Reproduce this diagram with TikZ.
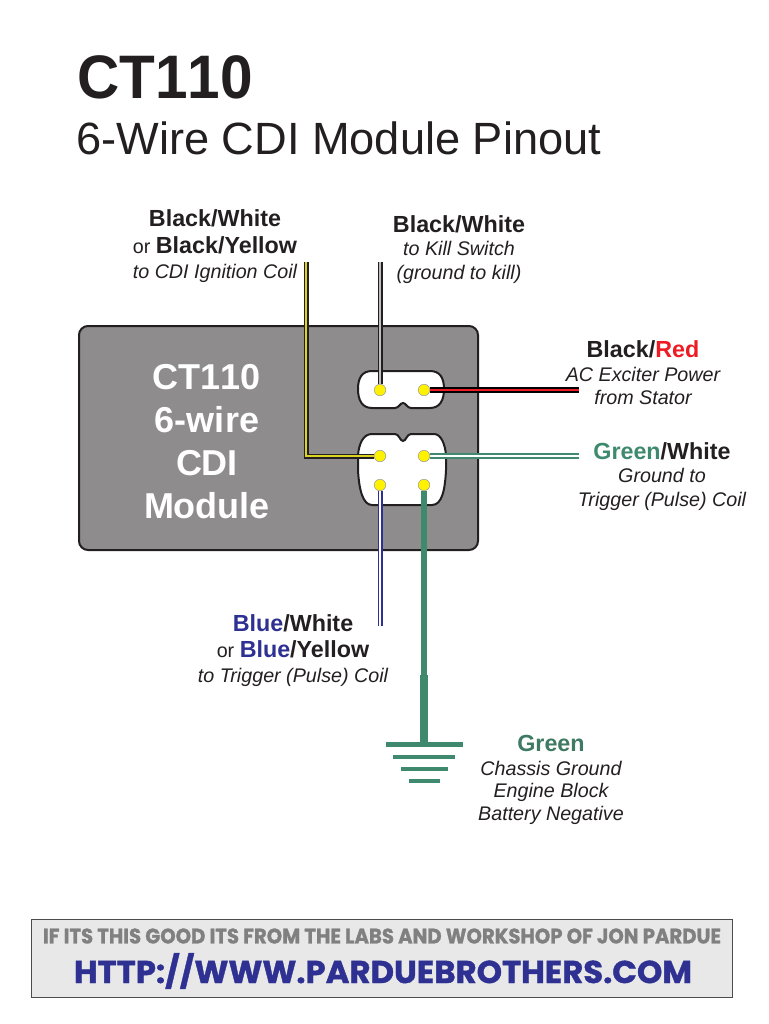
\documentclass[tikz,border=0pt]{standalone}
\usepackage{fontspec}
\setmainfont{Liberation Sans}
\newfontfamily\nokern{Liberation Sans}[Kerning=Off]
\newfontfamily\bannerfont{Poppins}[BoldFeatures={FakeBold=1.2}]
\definecolor{ink}{HTML}{231F20}
\definecolor{modgray}{HTML}{8E8C8D}
\definecolor{wiregreen}{HTML}{3F8A6E}
\definecolor{labelgreen}{HTML}{3F7A64}
\definecolor{wireblue}{HTML}{2E3192}
\definecolor{wirered}{HTML}{ED1C24}
\definecolor{bannerbg}{HTML}{E8E8E8}
\definecolor{bannertxt}{HTML}{808080}
\newcommand{\bw}[1]{{\fontsize{23.3}{27}\selectfont\upshape\bfseries #1}}
\newcommand{\orw}{{\fontsize{19.7}{24}\selectfont\upshape or }}
\tikzset{
  label/.style={align=center,text=ink,inner sep=0pt,font=\fontsize{19.7}{23.5}\selectfont\itshape},
  pin/.style={circle,fill=yellow,draw=black!40,line width=.5pt,minimum size=11.5pt,inner sep=0pt},
  socket/.style={fill=white,draw=ink,line width=2pt},
  wire/.style={line width=1.5pt,double distance=#1},
  gnd/.style={wiregreen,line width=4.2pt},
}
\begin{document}
\begin{tikzpicture}[x=1pt,y=-1pt]
\useasboundingbox (0,0) rectangle (768,1024);
% title
\node (title) [anchor=base west,inner sep=0pt,text=ink,font=\fontsize{58.5}{70}\selectfont\nokern\bfseries] at (77,98.7) {\scalebox{1}[1.05]{CT110}};
\node (subtitle) [anchor=base west,inner sep=0pt,text=ink,font=\fontsize{45.2}{50}\selectfont] at (76,154.5) {6-Wire CDI Module Pinout};
% module
\node (module) [draw=ink,fill=modgray,line width=2pt,rounded corners=9pt,minimum width=399pt,minimum height=224pt,anchor=north west] at (78,325) {};
\node (modtext) [align=center,text=white,inner sep=0pt,font=\fontsize{36}{43}\selectfont\nokern\bfseries] at (207,441.5) {CT110\\6-wire\\CDI\\Module};
% sockets
\draw[socket] (372,371) -- (430,371) .. controls (440,371) and (444,378) .. (444,389)
  .. controls (444,400) and (440,408) .. (430,408) -- (411,408)
  .. controls (407,408) and (406,403) .. (403,403) .. controls (400,403) and (399,408) .. (395,408)
  -- (372,408) .. controls (362,408) and (358,400) .. (358,389)
  .. controls (358,378) and (362,371) .. (372,371) -- cycle;
\draw[socket] (372,434) -- (395,434) .. controls (399,434) and (400,441) .. (403,441)
  .. controls (406,441) and (407,434) .. (411,434) -- (434,434)
  .. controls (441,434) and (445,444) .. (446,455) -- (446,470)
  .. controls (445,490) and (442,505) .. (432,505) -- (372,505)
  .. controls (363,505) and (359,490) .. (358,470) -- (358,455)
  .. controls (359,444) and (363,434) .. (372,434) -- cycle;
% pins
\node (p1) [pin] at (380,390) {};
\node (p2) [pin] at (424,390) {};
\node (p3) [pin] at (380,456) {};
\node (p4) [pin] at (424,456) {};
\node (p5) [pin] at (380,485) {};
\node (p6) [pin] at (424,485) {};
% free wire ends
\coordinate (yel) at (306,262);
\coordinate (kill) at (380,262);
\coordinate (red) at (579,390);
\coordinate (grn) at (579,456);
\coordinate (blu) at (380,626);
\coordinate (thick) at (424,675);
\coordinate (gnd) at (424,745);
% wires
\draw[wire=2pt,draw=ink,double=yellow!85!black] (yel) |- (p3);
\draw[wire=2pt,draw=ink,double=black!25] (kill) -- (p1);
\draw[line width=1.9pt,double distance=1.8pt,draw=black,double=wirered] (red) -- (p2);
\draw[line width=2pt,double distance=2pt,draw=wiregreen,double=white] (grn) -- (p4);
\draw[wire=2pt,draw=wireblue,double=white] (blu) -- (p5);
\draw[wiregreen,line width=5.5pt] (p6) -- (thick);
\draw[wiregreen,line width=8pt] (thick) -- (gnd);
% ground symbol
\draw[gnd] (386,744.5) -- (463,744.5);
\draw[gnd] (393,757) -- (455,757);
\draw[gnd] (401,769) -- (448,769);
\draw[gnd] (409,781) -- (440,781);
% labels
\node (l1) [label] at (215,246.5) {\bw{Black/White}\\[3.3pt]\orw\bw{Black/Yellow}\\[1.5pt]to CDI Ignition Coil};
\node (l2) [label] at (459,249.5) {\bw{Black/White}\\to Kill Switch\\(ground to kill)};
\node (l3) [label] at (643,372.7) {\bw{Black/{\color{wirered}Red}}\\[.8pt]AC Exciter Power\\from Stator};
\node (l4) [label] at (662,476.5) {\bw{{\color{wiregreen}Green}/White}\\Ground to\\Trigger (Pulse) Coil};
\node (l5) [label] at (293,650.5) {\bw{{\color{wireblue}Blue}/White}\\[3pt]\orw\bw{{\color{wireblue}Blue}/Yellow}\\[1.5pt]to Trigger (Pulse) Coil};
\node (l6) [label] at (551,780) {{\bw{\color{labelgreen}Green}}\\[.5pt]Chassis Ground\\[-1pt]Engine Block\\[-.5pt]Battery Negative};
% banner
\node (banner) [draw=black!70,fill=bannerbg,line width=1pt,minimum width=701pt,minimum height=78pt,anchor=north west] at (31,919) {};
\node (b1) [inner sep=0pt,text=bannertxt] at (382,936) {\resizebox{678pt}{15pt}{\bannerfont\bfseries IF ITS THIS GOOD ITS FROM THE LABS AND WORKSHOP OF JON PARDUE}};
\node (b2) [inner sep=0pt,text=wireblue] at (383,971) {\resizebox{618pt}{30pt}{\bannerfont\bfseries HTTP://WWW.PARDUEBROTHERS.COM}};
\end{tikzpicture}
\end{document}
